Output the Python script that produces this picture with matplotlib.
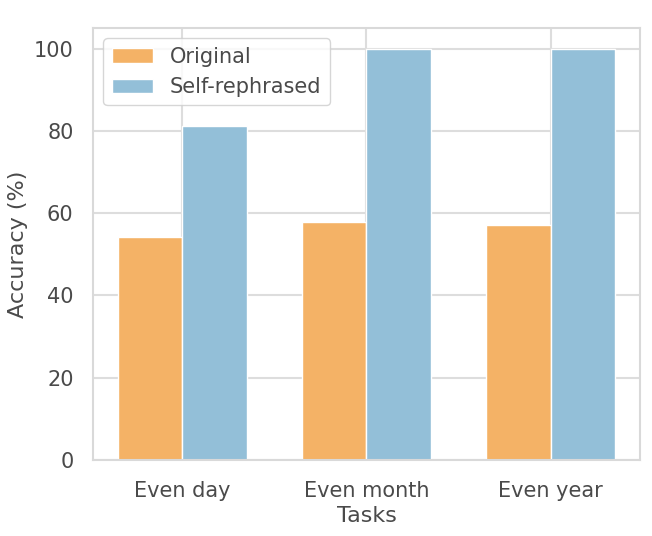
import matplotlib
matplotlib.use("Agg")
import matplotlib.pyplot as plt
import seaborn as sns
import numpy as np

tasks = ["Even day", "Even month", "Even year"]
original = [54.1, 57.9, 57.0]
self_rephrased = [81.2, 100.0, 100.0]
series_names = ["Original", "Self-rephrased"]

sns.set_theme(style="whitegrid")
plt.rcParams['font.family'] = ['DejaVu Sans']

TXT = "#4a4a4a"
fig = plt.figure(figsize=(6.52, 5.36), dpi=100)
ax = fig.add_axes([0.1426, 0.1418, 0.839, 0.806])

x = np.arange(len(tasks))
w = 0.35
ax.bar(x - w / 2, original, w, color="#F4B266", edgecolor="white", linewidth=1, label=series_names[0])
ax.bar(x + w / 2, self_rephrased, w, color="#93BFD8", edgecolor="white", linewidth=1, label=series_names[1])

ax.set_xticks(x)
ax.set_xticklabels(tasks, fontsize=15, color=TXT)
ax.tick_params(axis="y", labelsize=15, labelcolor=TXT, pad=8)
ax.tick_params(axis="x", pad=9)
ax.set_xlabel("Tasks", fontsize=16, color=TXT, labelpad=4)
ax.set_ylabel("Accuracy (%)", fontsize=16, color=TXT, labelpad=4)
ax.set_yticks([0, 20, 40, 60, 80, 100])
for s in ax.spines.values():
    s.set_color("#d9d9d9")
    s.set_linewidth(1.5)
ax.grid(True, color="#dddddd", linewidth=1.5)
leg = ax.legend(loc="upper left", fontsize=15, handlelength=2.0)
for t in leg.get_texts():
    t.set_color(TXT)

fig.savefig("out.png", dpi=100)
